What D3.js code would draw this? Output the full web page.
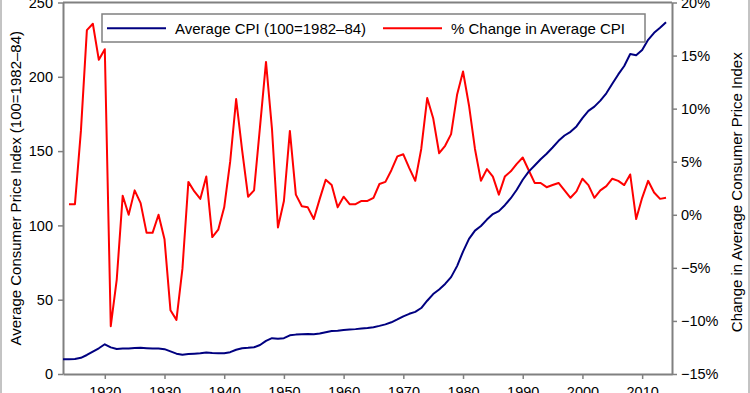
<!DOCTYPE html>
<html>
<head>
<meta charset="utf-8">
<script src="https://cdn.jsdelivr.net/npm/d3@7"></script>
<style>
html,body{margin:0;padding:0;background:#fff;}
svg{display:block;font-family:"Liberation Sans",Arial,sans-serif;}
</style>
</head>
<body>
<svg id="chart" width="750" height="393"></svg>
<script>
const cpiYears = d3.range(1913, 2015);
const cpiValues = [9.9,10.0,10.1,10.9,12.8,15.1,17.3,20.0,17.9,16.8,17.1,17.1,17.5,17.7,17.4,17.1,17.1,16.7,15.2,13.7,13.0,13.4,13.7,13.9,14.4,14.1,13.9,14.0,14.7,16.3,17.3,17.6,18.0,19.5,22.3,24.1,23.8,24.1,26.0,26.5,26.7,26.9,26.8,27.2,28.1,28.9,29.1,29.6,29.9,30.2,30.6,31.0,31.5,32.4,33.4,34.8,36.7,38.8,40.5,41.8,44.4,49.3,53.8,56.9,60.6,65.2,72.6,82.4,90.9,96.5,99.6,103.9,107.6,109.6,113.6,118.3,124.0,130.7,136.2,140.3,144.5,148.2,152.4,156.9,160.5,163.0,166.6,172.2,177.1,179.9,184.0,188.9,195.3,201.6,207.3,215.3,214.5,218.1,224.9,229.6,233.0,236.7];
const pctYears = d3.range(1914, 2015);
const pctValues = [1.0,1.0,7.9,17.4,18.0,14.6,15.6,-10.5,-6.1,1.8,0.0,2.3,1.1,-1.7,-1.7,0.0,-2.3,-9.0,-9.9,-5.1,3.1,2.2,1.5,3.6,-2.1,-1.4,0.7,5.0,10.9,6.1,1.7,2.3,8.3,14.4,8.1,-1.2,1.3,7.9,1.9,0.8,0.7,-0.4,1.5,3.3,2.8,0.7,1.7,1.0,1.0,1.3,1.3,1.6,2.9,3.1,4.2,5.5,5.7,4.4,3.2,6.2,11.0,9.1,5.8,6.5,7.6,11.3,13.5,10.3,6.2,3.2,4.3,3.6,1.9,3.6,4.1,4.8,5.4,4.2,3.0,3.0,2.6,2.8,3.0,2.3,1.6,2.2,3.4,2.8,1.6,2.3,2.7,3.4,3.2,2.8,3.8,-0.4,1.6,3.2,2.1,1.5,1.6];
const xTicks = [1920,1930,1940,1950,1960,1970,1980,1990,2000,2010];
const leftTicks = [0,50,100,150,200,250];
const rightTicks = [-15,-10,-5,0,5,10,15,20];
const seriesNames = ["Average CPI (100=1982\u201384)", "% Change in Average CPI"];
const leftTitle = "Average Consumer Price Index (100=1982\u201384)";
const rightTitle = "Change in Average Consumer Price Index";

const svg = d3.select("#chart");
const L = 63, R = 672, T = 2.5, B = 374;
const axisColor = "#808080";
const x = d3.scaleLinear().domain([1913, 2015]).range([L, R]);
const yL = d3.scaleLinear().domain([0, 250]).range([B, T]);
const yR = d3.scaleLinear().domain([-15, 20]).range([B, T]);

// image side borders
svg.append("line").attr("x1",1).attr("x2",1).attr("y1",0).attr("y2",393).attr("stroke","#888").attr("stroke-width",1);
svg.append("line").attr("x1",749).attr("x2",749).attr("y1",0).attr("y2",393).attr("stroke","#888").attr("stroke-width",1);

// top frame line
svg.append("line").attr("x1",L).attr("x2",R).attr("y1",T).attr("y2",T).attr("stroke",axisColor).attr("stroke-width",2);

function styleAxis(g){
  g.selectAll("path.domain").attr("stroke",axisColor).attr("stroke-width",2);
  g.selectAll(".tick line").attr("stroke",axisColor).attr("stroke-width",1.5);
  g.selectAll(".tick text").attr("fill","#000").style("font-size","14.5px").style("font-family","'Liberation Sans',Arial,sans-serif");
}

const gx = svg.append("g").attr("transform",`translate(0,${B})`)
  .call(d3.axisBottom(x).tickValues(xTicks).tickFormat(d3.format("d")).tickSize(5).tickSizeOuter(0).tickPadding(8));
styleAxis(gx);
const gl = svg.append("g").attr("transform",`translate(${L},0)`)
  .call(d3.axisLeft(yL).tickValues(leftTicks).tickSize(5).tickSizeOuter(0).tickPadding(5));
styleAxis(gl);
const gr = svg.append("g").attr("transform",`translate(${R},0)`)
  .call(d3.axisRight(yR).tickValues(rightTicks).tickFormat(d => d3.format("d")(d) + "%").tickSize(5).tickSizeOuter(0).tickPadding(4));
styleAxis(gr);

// lines
const cpiLine = d3.line().x((d,i)=>x(cpiYears[i])).y(d=>yL(d));
const pctLine = d3.line().x((d,i)=>x(pctYears[i])).y(d=>yR(d));
svg.append("path").datum(pctValues).attr("d",pctLine).attr("fill","none").attr("stroke","#ff0000").attr("stroke-width",2).attr("stroke-linejoin","round");
svg.append("path").datum(cpiValues).attr("d",cpiLine).attr("fill","none").attr("stroke","#000080").attr("stroke-width",2).attr("stroke-linejoin","round");

// axis titles
svg.append("text").attr("transform",`translate(20.5,${(T+B)/2}) rotate(-90)`).attr("text-anchor","middle")
  .style("font-size","15px").text(leftTitle);
svg.append("text").attr("transform",`translate(742,${(T+B)/2+4}) rotate(-90)`).attr("text-anchor","middle")
  .style("font-size","15px").text(rightTitle);

// legend
const lg = svg.append("g");
lg.append("rect").attr("x",102).attr("y",14).attr("width",543).attr("height",28).attr("fill","#fff").attr("stroke",axisColor).attr("stroke-width",1.5);
const legendItems = [{name:seriesNames[0], color:"#000080", x0:107},{name:seriesNames[1], color:"#ff0000", x0:383}];
legendItems.forEach(it=>{
  lg.append("line").attr("x1",it.x0).attr("x2",it.x0+59).attr("y1",28.3).attr("y2",28.3).attr("stroke",it.color).attr("stroke-width",2);
  lg.append("text").attr("x",it.x0+68).attr("y",33.5).style("font-size","15px").text(it.name);
});
</script>
</body>
</html>
